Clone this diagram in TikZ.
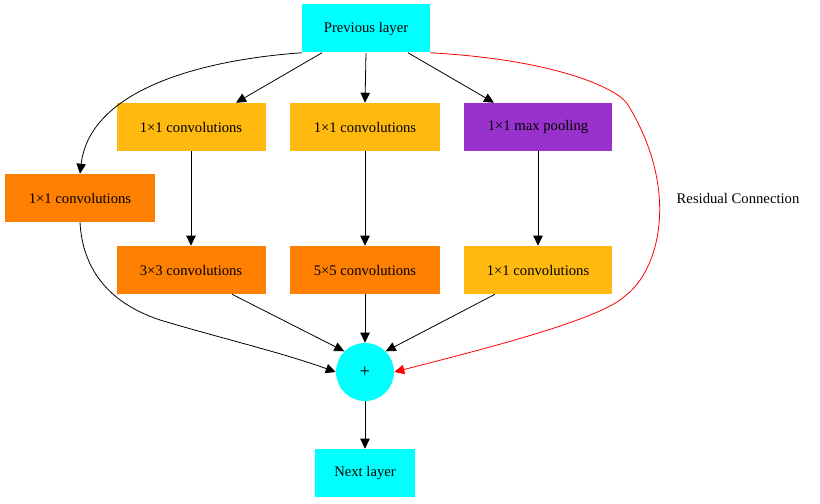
\documentclass[tikz,border=0pt]{standalone}
\usepackage{fontspec}
\setmainfont{Liberation Serif}
\usetikzlibrary{arrows.meta}
\definecolor{cy}{HTML}{00FFFF}
\definecolor{amb}{HTML}{FFB90F}
\definecolor{org}{HTML}{FF8000}
\definecolor{pur}{HTML}{9932CC}
\begin{document}
\begin{tikzpicture}[x=0.75pt,y=-0.75pt,
  box/.style={minimum width=#1*0.75pt,minimum height=36pt,inner sep=0pt,font=\fontsize{11}{13}\selectfont},
  arr/.style={-{Triangle[length=7.5pt,width=7pt]},line width=0.6pt}]
\useasboundingbox (0,0) rectangle (820,503);
\node[box=128,fill=cy] (prev) at (366,28.5) {Previous layer};
\node[box=149,fill=amb] (c1) at (191,127) {1×1 convolutions};
\node[box=150,fill=amb] (c2) at (365,127) {1×1 convolutions};
\node[box=148,fill=pur] (mp) at (538,127) {1×1 max pooling};
\node[box=150,fill=org] (c0) at (80,198) {1×1 convolutions};
\node[box=149,fill=org] (c3) at (191,270) {3×3 convolutions};
\node[box=150,fill=org] (c5) at (365,270) {5×5 convolutions};
\node[box=148,fill=amb] (c4) at (538,270) {1×1 convolutions};
\node[circle,fill=cy,minimum size=43.5pt,inner sep=0pt,font=\fontsize{14}{16}\selectfont] (plus) at (365,372) {+};
\node[box=100,fill=cy] (next) at (365,473) {Next layer};
\node[font=\fontsize{11}{13}\selectfont] (lbl) at (738,198) {Residual Connection};
\draw[arr] (prev.south west) .. controls (200,60) and (90,90) .. (c0.north);
\draw[arr] (prev.south -| 322,0) -- (c1.north -| 236,0);
\draw[arr] (prev.south -| 366,0) -- (c2.north);
\draw[arr] (prev.south -| 408,0) -- (mp.north -| 494,0);
\draw[arr] (c1) -- (c3);
\draw[arr] (c2) -- (c5);
\draw[arr] (mp) -- (c4);
\draw[arr] (c0.south) .. controls (82,260) and (100,300) .. (160,320) .. controls (220,338) and (280,352) .. (plus.west);
\draw[arr] (c3.south -| 232,0) -- (plus.north west);
\draw[arr] (c5) -- (plus);
\draw[arr] (c4.south -| 495,0) -- (plus.north east);
\draw[arr,red,-{Triangle[length=7.5pt,width=7pt,fill=red]}] (prev.south east) .. controls (560,60) and (620,90) .. (628,105) .. controls (680,190) and (660,270) .. (625,296) .. controls (600,320) and (480,350) .. (plus.east);
\draw[arr] (plus) -- (next);
\end{tikzpicture}
\end{document}
